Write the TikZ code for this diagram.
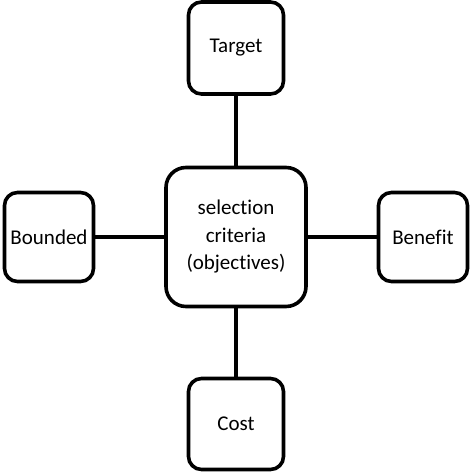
\documentclass[tikz,border=0pt]{standalone}
\usepackage{fontspec}
\setmainfont[Ligatures=NoCommon]{Carlito}
\begin{document}
\begin{tikzpicture}[x=1pt,y=1pt,
  box/.style={draw=black,line width=3.6pt,rounded corners=13pt,fill=white,align=center,font=\fontsize{21}{27.5}\selectfont,inner sep=0pt},
  link/.style={line width=3.4pt}]
\useasboundingbox (0,0) rectangle (474,474);
\node[box,minimum width=140pt,minimum height=139pt,rounded corners=20pt] (c) at (236,237) {selection\\criteria\\(objectives)};
\node[box,minimum width=95pt,minimum height=92pt] (t) at (236,426) {Target};
\node[box,minimum width=95pt,minimum height=91pt] (b) at (236,50) {Cost};
\node[box,minimum width=89pt,minimum height=89pt] (l) at (49,237) {Bounded};
\node[box,minimum width=89pt,minimum height=89pt] (r) at (423,237) {Benefit};
\draw[link] (c.north) -- (t.south);
\draw[link] (c.south) -- (b.north);
\draw[link] (c.west) -- (l.east);
\draw[link] (c.east) -- (r.west);
\end{tikzpicture}
\end{document}
